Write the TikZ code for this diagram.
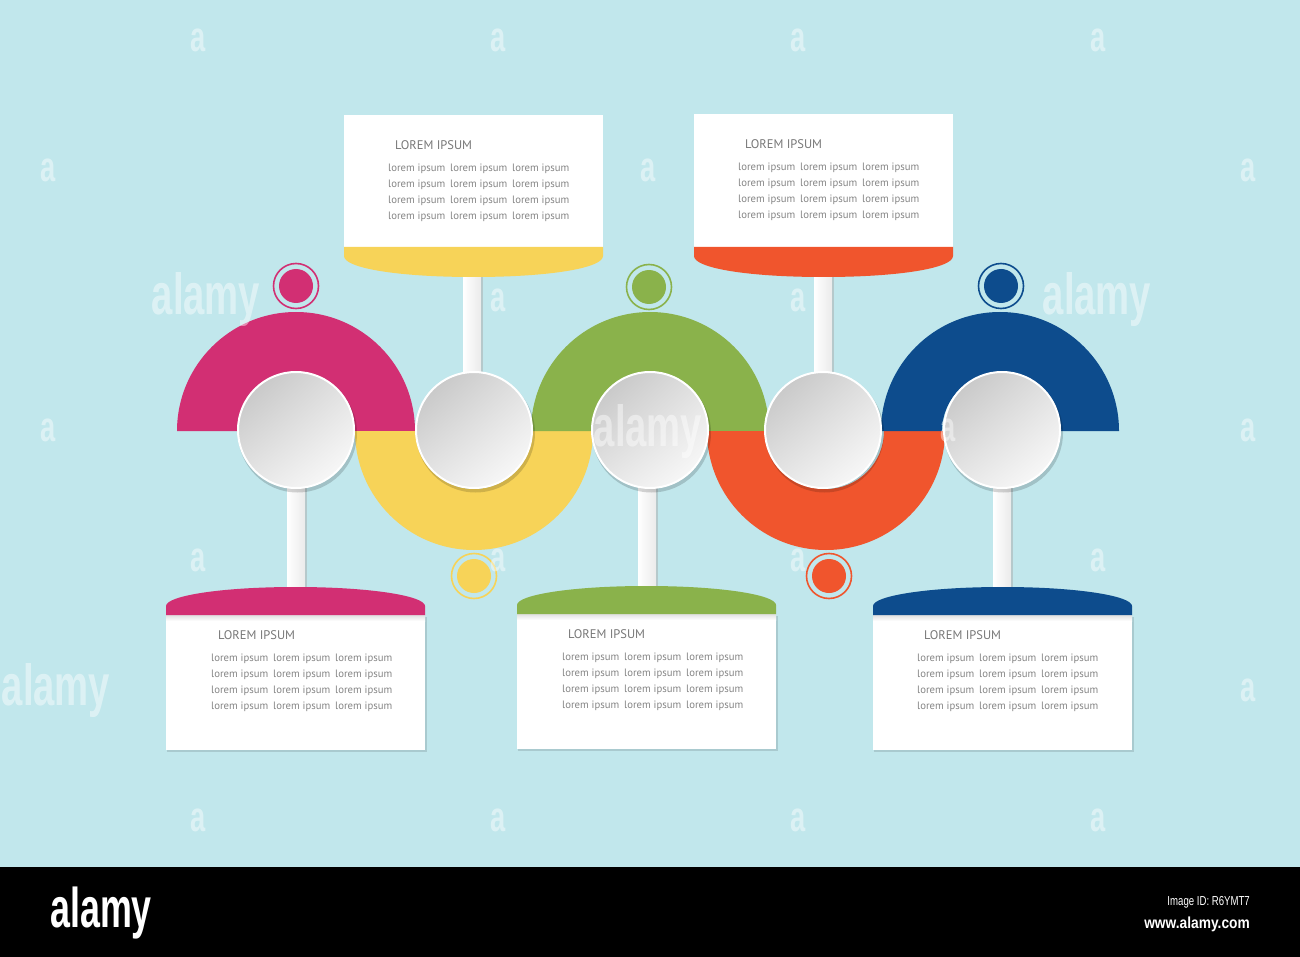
\documentclass[tikz,border=0pt]{standalone}
\usepackage{fontspec}
\setmainfont{PT Sans}
\newfontfamily\logofont{Liberation Sans}
\usetikzlibrary{shadings}
\definecolor{bg}{HTML}{C1E7EC}
\definecolor{cmag}{HTML}{D22F73}
\definecolor{cyel}{HTML}{F7D358}
\definecolor{cgrn}{HTML}{8AB24B}
\definecolor{corg}{HTML}{F0552D}
\definecolor{cblu}{HTML}{0D4C8D}
\definecolor{txtgray}{HTML}{858585}
\definecolor{hdrgray}{HTML}{777777}
\tikzset{
  lorem/.style={anchor=west, inner sep=0pt, text=txtgray, font=\fontsize{10.7}{12}\selectfont},
  hdr/.style={anchor=west, inner sep=0pt, text=hdrgray, font=\fontsize{12.5}{14}\selectfont},
  wm/.style={inner sep=0pt, text=white, text opacity=.45, font=\logofont\bfseries\fontsize{42}{42}\selectfont},
  wmbig/.style={inner sep=0pt, text=white, text opacity=.45, font=\logofont\bfseries\fontsize{58}{58}\selectfont},
  boxshadow/.style={fill=black, opacity=.12},
}
\newcommand\myloremgrid[3]{%
  \foreach \c in {0,1,2}{\foreach \r in {0,1,2,3}{%
    \node[lorem] (#3-\c-\r) at ({#1+62*\c},{#2+16*\r}) {lorem ipsum};}}}
\newcommand\mytopring[2]{%
  \fill[#2] ({#1-119},431) arc[start angle=180,end angle=360,radius=119] -- ({#1+58},431) arc[start angle=360,end angle=180,radius=58] -- cycle;}
\newcommand\mybotring[2]{%
  \fill[#2] ({#1-119},431) arc[start angle=180,end angle=0,radius=119] -- ({#1+58},431) arc[start angle=0,end angle=180,radius=58] -- cycle;}
\newcommand\mysmalldot[3]{%
  \draw[#3, line width=1.6] (#1,#2) circle[radius=22.5];
  \fill[#3] (#1,#2) circle[radius=17];}
\newcommand\mydisc[1]{%
  \fill[black, opacity=.16] ({#1+1.5},433) circle[radius=59.5];
  \shade[upper left=black!25, upper right=black!12, lower left=black!10, lower right=white] (#1,430) circle[radius=58];
  \draw[white, line width=2] (#1,430) circle[radius=58];}
\newcommand\mystem[3]{%
  \shade[left color=white, right color=black!8] ({#1-9},#2) rectangle ({#1+9},#3);
  \fill[black!35, opacity=.45] ({#1+9},#2) rectangle ({#1+11},#3);}
\begin{document}
\begin{tikzpicture}[x=1pt,y=-1pt]
\useasboundingbox (0,0) rectangle (1300,957);
\fill[bg] (0,0) rectangle (1300,957);

% stems
\mystem{472}{270}{378}
\mystem{823}{270}{378}
\mystem{296}{482}{595}
\mystem{647}{482}{595}
\mystem{1002}{482}{595}

% rings
\mytopring{296}{cmag}
\mybotring{474}{cyel}
\mytopring{650}{cgrn}
\mybotring{826}{corg}
\mytopring{1000}{cblu}

% small circles
\mysmalldot{296}{286}{cmag}
\mysmalldot{474}{576}{cyel}
\mysmalldot{649}{287}{cgrn}
\mysmalldot{829}{576}{corg}
\mysmalldot{1001}{286}{cblu}

% white discs
\mydisc{296}
\mydisc{474}
\mydisc{650}
\mydisc{823}
\mydisc{1002}

% top boxes
\fill[white] (344,115) rectangle (603,248);
\fill[cyel] (344,247) -- (603,247) -- (603,256) .. controls (603,268) and (550,277) .. (473.5,277) .. controls (397,277) and (344,268) .. (344,256) -- cycle;
\fill[white] (694,114) rectangle (953,248);
\fill[corg] (694,247) -- (953,247) -- (953,256) .. controls (953,268) and (900,277) .. (823.5,277) .. controls (747,277) and (694,268) .. (694,256) -- cycle;

% bottom boxes
\fill[boxshadow] (167,617) rectangle (427,752);
\fill[white] (166,615) rectangle (425,750);
\shade[top color=black!12, bottom color=white] (166,615) rectangle (425,621);
\fill[cmag] (166,615) -- (166,606) .. controls (166,596) and (220,587) .. (295.5,587) .. controls (371,587) and (425,596) .. (425,606) -- (425,615) -- cycle;

\fill[boxshadow] (518,616) rectangle (778,751);
\fill[white] (517,614) rectangle (776,749);
\shade[top color=black!12, bottom color=white] (517,614) rectangle (776,620);
\fill[cgrn] (517,614) -- (517,605) .. controls (517,595) and (571,586) .. (646.5,586) .. controls (722,586) and (776,595) .. (776,605) -- (776,614) -- cycle;

\fill[boxshadow] (874,617) rectangle (1134,752);
\fill[white] (873,615) rectangle (1132,750);
\shade[top color=black!12, bottom color=white] (873,615) rectangle (1132,621);
\fill[cblu] (873,615) -- (873,606) .. controls (873,596) and (927,587) .. (1002.5,587) .. controls (1078,587) and (1132,596) .. (1132,606) -- (1132,615) -- cycle;

% texts
\node[hdr] (t1h) at (395,145) {LOREM IPSUM};
\myloremgrid{388}{169}{t1}
\node[hdr] (t2h) at (745,144) {LOREM IPSUM};
\myloremgrid{738}{168}{t2}
\node[hdr] (b1h) at (218,635) {LOREM IPSUM};
\myloremgrid{211}{659}{b1}
\node[hdr] (b2h) at (568,634) {LOREM IPSUM};
\myloremgrid{562}{658}{b2}
\node[hdr] (b3h) at (924,635) {LOREM IPSUM};
\myloremgrid{917}{659}{b3}

% watermarks
\foreach \x/\y [count=\i] in {198/40,498/40,798/40,1098/40,48/170,648/170,1248/170,498/300,798/300,48/430,948/430,1248/430,198/560,498/560,798/560,1098/560,1248/690,198/820,498/820,798/820,1098/820}
  \node[wm] (wa\i) at (\x,\y) {\scalebox{0.65}[1]{a}};
\foreach \x/\y [count=\i] in {206/300,1097/300,648/432,56/690}
  \node[wmbig] (wb\i) at (\x,\y) {\scalebox{0.66}[1]{alamy}};

% bottom band
\fill[black] (0,867) rectangle (1300,957);
\node[anchor=base west, inner sep=0pt, text=white, font=\logofont\bfseries\fontsize{56}{56}\selectfont] (logo) at (50,927) {\scalebox{0.64}[1]{alamy}};
\node[anchor=base east, inner sep=0pt, text=white, font=\logofont\fontsize{13}{13}\selectfont] (imgid) at (1250,905) {\scalebox{0.74}[1]{Image ID: R6YMT7}};
\node[anchor=base east, inner sep=0pt, text=white, font=\logofont\bfseries\fontsize{16}{16}\selectfont] (url) at (1250,928) {\scalebox{0.86}[1]{www.alamy.com}};
\end{tikzpicture}
\end{document}
